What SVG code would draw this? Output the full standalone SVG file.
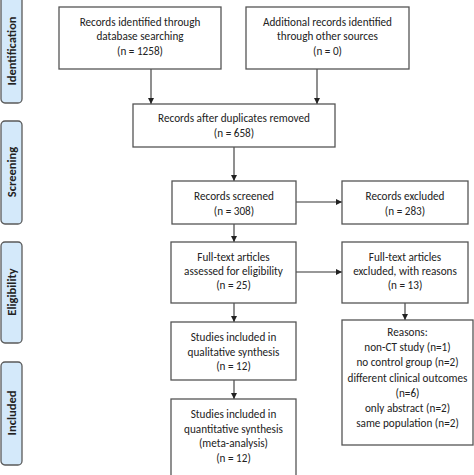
<svg xmlns="http://www.w3.org/2000/svg" width="474" height="475" viewBox="0 0 474 475">
<defs>
<style>
.box{fill:#fff;stroke:#555;stroke-width:1.3}
.tab{fill:#d4e9fa;stroke:#5a5a5a;stroke-width:1.3}
.t{font-family:Carlito,"Liberation Sans Narrow","Liberation Sans",sans-serif;font-size:11.2px;fill:#222;text-anchor:middle}
.tl{font-family:Carlito,"Liberation Sans",sans-serif;font-size:12.5px;font-weight:bold;fill:#222;text-anchor:middle}
.c{stroke:#333;stroke-width:1.1;fill:none;marker-end:url(#ah)}
</style>
<marker id="ah" viewBox="0 0 10 10" refX="10" refY="5" markerWidth="6" markerHeight="6" markerUnits="userSpaceOnUse" orient="auto">
<path d="M0,0 L10,5 L0,10 z" fill="#222"/>
</marker>
</defs>
<rect width="474" height="475" fill="#fff"/>
<g id="tabs">
<g id="tab-identification"><rect class="tab" x="1" y="-6" width="21" height="109" rx="4"/><text class="tl" transform="translate(16,51) rotate(-90)">Identification</text></g>
<g id="tab-screening"><rect class="tab" x="1" y="121" width="21" height="103" rx="4"/><text class="tl" transform="translate(16,172) rotate(-90)">Screening</text></g>
<g id="tab-eligibility"><rect class="tab" x="1" y="242" width="21" height="101" rx="4"/><text class="tl" transform="translate(16,292) rotate(-90)">Eligibility</text></g>
<g id="tab-included"><rect class="tab" x="1" y="362" width="21" height="103" rx="4"/><text class="tl" transform="translate(16,413) rotate(-90)">Included</text></g>
</g>
<g id="connectors">
<path class="c" d="M151,69 V104"/>
<path class="c" d="M317,69 V104"/>
<path class="c" d="M234,147 V181"/>
<path class="c" d="M296,202 H342"/>
<path class="c" d="M234,224 V242"/>
<path class="c" d="M296,272 H342"/>
<path class="c" d="M405,303 V320"/>
<path class="c" d="M234,303 V322"/>
<path class="c" d="M234,380 V399"/>
</g>
<g id="n1"><rect class="box" x="59" y="7" width="162" height="62"/>
<text class="t" x="140" y="25.5">Records identified through</text><text class="t" x="140" y="40">database searching</text><text class="t" x="140" y="55">(n = 1258)</text></g>
<g id="n2"><rect class="box" x="246" y="7" width="163" height="62"/>
<text class="t" x="327.5" y="25.5">Additional records identified</text><text class="t" x="327.5" y="40">through other sources</text><text class="t" x="327.5" y="55">(n = 0)</text></g>
<g id="n3"><rect class="box" x="133" y="104" width="202" height="43"/>
<text class="t" x="234" y="122">Records after duplicates removed</text><text class="t" x="234" y="136.5">(n = 658)</text></g>
<g id="n4"><rect class="box" x="172" y="181" width="124" height="43"/>
<text class="t" x="234" y="199.5">Records screened</text><text class="t" x="234" y="215">(n = 308)</text></g>
<g id="n5"><rect class="box" x="342" y="181" width="126" height="43"/>
<text class="t" x="405" y="199.5">Records excluded</text><text class="t" x="405" y="215">(n = 283)</text></g>
<g id="n6"><rect class="box" x="171" y="242" width="125" height="61"/>
<text class="t" x="233.5" y="260.5">Full-text articles</text><text class="t" x="233.5" y="274.5">assessed for eligibility</text><text class="t" x="233.5" y="289">(n = 25)</text></g>
<g id="n7"><rect class="box" x="342" y="242" width="126" height="61"/>
<text class="t" x="405" y="260.5">Full-text articles</text><text class="t" x="405" y="274.5">excluded, with reasons</text><text class="t" x="405" y="289">(n = 13)</text></g>
<g id="n8"><rect class="box" x="171" y="322" width="125" height="58"/>
<text class="t" x="233.5" y="340.5">Studies included in</text><text class="t" x="233.5" y="355.5">qualitative synthesis</text><text class="t" x="233.5" y="369.5">(n = 12)</text></g>
<g id="n9"><rect class="box" x="171" y="399" width="125" height="84"/>
<text class="t" x="233.5" y="418">Studies included in</text><text class="t" x="233.5" y="433">quantitative synthesis</text><text class="t" x="233.5" y="447">(meta-analysis)</text><text class="t" x="233.5" y="461.5">(n = 12)</text></g>
<g id="n10"><rect class="box" x="342" y="320" width="131" height="125"/>
<text class="t" x="407.5" y="335.5">Reasons:</text><text class="t" x="407.5" y="350.5">non-CT study (n=1)</text><text class="t" x="407.5" y="366">no control group (n=2)</text><text class="t" x="407.5" y="381.5">different clinical outcomes</text><text class="t" x="407.5" y="396.5">(n=6)</text><text class="t" x="407.5" y="412">only abstract (n=2)</text><text class="t" x="407.5" y="427">same population (n=2)</text></g>
</svg>
